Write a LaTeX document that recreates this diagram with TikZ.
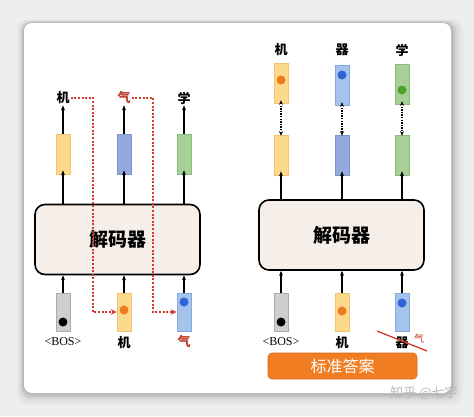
\documentclass[tikz,border=0pt]{standalone}
\usepackage{fontspec}
\setmainfont{Liberation Serif}
\newfontfamily\cjk{Noto Sans CJK SC}
\usetikzlibrary{arrows.meta,calc}
\definecolor{cardbg}{HTML}{FFFFFF}
\definecolor{outbg}{HTML}{EEEEEE}
\definecolor{beige}{HTML}{F6EEE8}
\definecolor{ylw}{HTML}{FCD98C}
\definecolor{ylwd}{HTML}{EFC46A}
\definecolor{blu}{HTML}{94A9DE}
\definecolor{blud}{HTML}{7E94CC}
\definecolor{lblu}{HTML}{A4C4EE}
\definecolor{lblud}{HTML}{88AADB}
\definecolor{grn}{HTML}{A7D098}
\definecolor{grnd}{HTML}{8CBB7C}
\definecolor{gry}{HTML}{CFCFCF}
\definecolor{gryd}{HTML}{AAAAAA}
\definecolor{rdot}{HTML}{D63A2F}
\definecolor{redtxt}{HTML}{C0392B}
\definecolor{org}{HTML}{F07D22}
\definecolor{orgd}{HTML}{D9661A}
\definecolor{dotorg}{HTML}{F07A1E}
\definecolor{dotblu}{HTML}{2F63D6}
\definecolor{dotgrn}{HTML}{4FA12E}
\tikzset{
  tok/.style={minimum width=14pt, minimum height=40pt, inner sep=0pt, line width=0.6pt},
  tokin/.style={tok, minimum height=38pt},
  ytok/.style={fill=ylw, draw=ylwd},
  btok/.style={fill=blu, draw=blud},
  lbtok/.style={fill=lblu, draw=lblud},
  gtok/.style={fill=grn, draw=grnd},
  graytok/.style={fill=gry, draw=gryd},
  dec/.style={draw=black, line width=1.6pt, rounded corners=10pt, fill=beige,
    minimum width=165pt, minimum height=70pt, inner sep=0pt, font=\cjk\bfseries\fontsize{19}{19}\selectfont},
  lab/.style={inner sep=1pt, font=\cjk\bfseries\fontsize{13}{13}\selectfont},
  rlab/.style={lab, text=redtxt},
  bos/.style={inner sep=1pt, font=\fontsize{12}{12}\selectfont},
  arr/.style={-{Stealth[length=5pt,width=4pt]}, line width=1.1pt, black},
  reddot/.style={dash pattern=on 2pt off 1.6pt, line width=2.1pt, rdot, -{Stealth[length=6pt,width=5.5pt]}},
  darr/.style={{Stealth[length=4.5pt,width=4pt]}-{Stealth[length=4.5pt,width=4pt]}, dash pattern=on 1.4pt off 1.2pt, line width=1.4pt, black},
  ball/.style={circle, inner sep=0pt, minimum size=9pt},
}
\begin{document}
\begin{tikzpicture}[x=1pt,y=-1pt]
\useasboundingbox (0,0) rectangle (474,416);
% background and card
\fill[outbg] (0,0) rectangle (474,416);
\foreach \i/\o in {12/0.025,9/0.035,6/0.05,4/0.06,2/0.08}{
  \fill[black,opacity=\o,rounded corners=10pt] (24-\i*0.6,23-\i*0.3) rectangle (451+\i,393+\i);
}
\fill[cardbg,rounded corners=8pt] (24,23) rectangle (451,393);

% ---------------- left panel ----------------
\node[dec] (decL) at (117.5,239.5) {解码器};
\node[tok,ytok] (uL1) at (63,154) {};
\node[tok,btok] (uL2) at (124,154) {};
\node[tok,gtok] (uL3) at (184,154) {};
\node[lab] (lL1) at (63,98) {机};
\node[rlab] (lL2) at (124,98) {气};
\node[lab] (lL3) at (184,98) {学};
\node[tokin,graytok] (bL1) at (63,312) {};
\node[tokin,ytok] (bL2) at (124,312) {};
\node[tokin,lbtok] (bL3) at (184,312) {};
\node[ball,fill=black] (dL1) at (63,322) {};
\node[ball,fill=dotorg] (dL2) at (124,310) {};
\node[ball,fill=dotblu] (dL3) at (184,302) {};
\node[bos] (iL1) at (63,342) {<BOS>};
\node[lab] (iL2) at (124,343) {机};
\node[rlab] (iL3) at (184,342) {气};
\foreach \k in {1,2,3}{
  \draw[arr] (decL.north -| uL\k) -- ([yshift=4pt]uL\k.south);
  \draw[arr] (uL\k.north) -- (lL\k.south);
  \draw[arr] (bL\k.north) -- (decL.south -| bL\k);
}
\coordinate (tL1) at (93,98);
\coordinate (tL2) at (153,98);
\draw[reddot] (lL1.east) -- (tL1) |- (bL2.west);
\draw[reddot] (lL2.east) -- (tL2) |- (bL3.west);

% ---------------- right panel ----------------
\node[dec] (decR) at (341.5,235) {解码器};
\node[tok,ytok] (mR1) at (281,155) {};
\node[tok,btok] (mR2) at (342,155) {};
\node[tok,gtok] (mR3) at (402,155) {};
\node[tok,ytok] (tR1) at (281,83) {};
\node[tok,lbtok] (tR2) at (342,85) {};
\node[tok,gtok] (tR3) at (402,84) {};
\node[ball,fill=dotorg] (eR1) at (281,80) {};
\node[ball,fill=dotblu] (eR2) at (342,75) {};
\node[ball,fill=dotgrn] (eR3) at (402,90) {};
\node[lab] (lR1) at (281,50) {机};
\node[lab] (lR2) at (342,50) {器};
\node[lab] (lR3) at (402,50) {学};
\node[tokin,graytok] (bR1) at (281,312.5) {};
\node[tokin,ytok] (bR2) at (342,312.5) {};
\node[tokin,lbtok] (bR3) at (402,312.5) {};
\node[ball,fill=black] (dR1) at (281,322) {};
\node[ball,fill=dotorg] (dR2) at (342,311) {};
\node[ball,fill=dotblu] (dR3) at (402,303) {};
\node[bos] (iR1) at (281,342) {<BOS>};
\node[lab] (iR2) at (342,343) {机};
\node[lab] (iR3) at (402,343) {器};
\node[inner sep=0pt, text=redtxt, font=\cjk\fontsize{10}{10}\selectfont] (iR3b) at (419,339) {气};
\coordinate (sA) at (377,331);
\coordinate (sB) at (427,351);
\draw[rdot, line width=1.3pt] (sA) -- (sB);
\foreach \k in {1,2,3}{
  \draw[arr] (decR.north -| mR\k) -- ([yshift=4pt]mR\k.south);
  \draw[darr] ([yshift=3pt]tR\k.south) -- ([yshift=-1pt]mR\k.north);
  \draw[arr] (bR\k.north) -- (decR.south -| bR\k);
}
\node[fill=org, draw=orgd, line width=0.6pt, rounded corners=4pt, minimum width=149pt, minimum height=26pt,
  inner sep=0pt, text=white, font=\cjk\fontsize{16}{16}\selectfont] (ans) at (342.5,366) {标准答案};

% watermark
\node[text=gray!55, font=\cjk\fontsize{13}{13}\selectfont, inner sep=0pt] (wm) at (424,393) {知乎 @七宇};
\end{tikzpicture}
\end{document}
